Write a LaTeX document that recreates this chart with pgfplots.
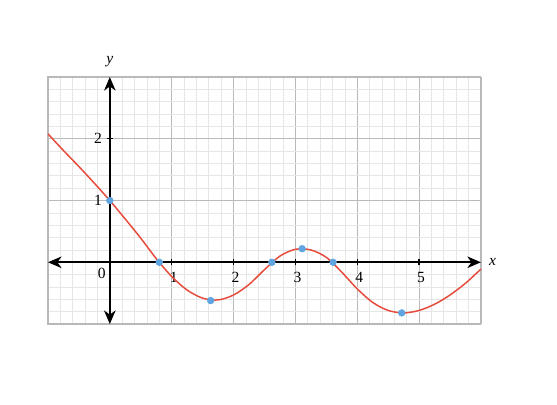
\documentclass[border=0pt]{standalone}
\usepackage{pgfplots}
\pgfplotsset{compat=1.18}
\usepackage{fontspec}
\setmainfont{Liberation Serif}
\usetikzlibrary{arrows.meta}
\definecolor{curvered}{RGB}{230,75,60}
\definecolor{ptblue}{RGB}{95,165,225}
\definecolor{majgrid}{RGB}{185,185,185}
\definecolor{mingrid}{RGB}{230,230,230}

\begin{document}
\begin{tikzpicture}
\path[use as bounding box] (0,0) rectangle (412.2pt,299pt);
\pgfplotsset{
  common/.style={
    at={(35.5pt,59.2pt)}, anchor=south west,
    scale only axis, width=320.4pt, height=182.8pt,
    xmin=-1, xmax=6, ymin=-1, ymax=3,
  }
}
% background grid
\begin{axis}[common,
  xtick={-1,...,6}, ytick={-1,...,3},
  minor tick num=4,
  xticklabels={}, yticklabels={},
  major tick length=0pt, minor tick length=0pt,
  grid=both,
  major grid style={majgrid, line width=0.6pt},
  minor grid style={mingrid, line width=0.5pt},
  axis line style={majgrid, line width=0.8pt},
]
\end{axis}

% axes, curve and points
\begin{axis}[common,
  axis lines=middle,
  clip=false,
  axis line style={line width=1.3pt,
    {Stealth[length=10pt,width=8.5pt,inset=3pt]}-{Stealth[length=10pt,width=8.5pt,inset=3pt]}},
  xtick={1,...,5}, ytick={1,2},
  tick align=center,
  major tick length=4.5pt,
  tick style={black, line width=0.9pt},
  /pgf/number format/assume math mode=true,
  ticklabel style={font=\fontsize{11.5}{13}\selectfont},
  xticklabel style={anchor=north, xshift=1.5pt, yshift=-1.5pt},
  yticklabel style={anchor=east, xshift=0pt},
  label style={font=\fontsize{11.5}{13}\selectfont},
  xlabel={\textit{x}}, ylabel={\textit{y}},
  xlabel style={at={(axis description cs:1,0.25)}, anchor=west, xshift=2.5pt},
  ylabel style={at={(axis description cs:0.142857,1)}, anchor=south, yshift=4pt},
]
\addplot[curvered, line width=1.1pt, smooth] coordinates {
  (-1,2.08) (-0.75,1.81) (-0.5,1.55) (-0.25,1.28) (0,1.00) (0.25,0.70)
  (0.5,0.39) (0.75,0.06) (1,-0.23) (1.25,-0.45) (1.5,-0.58) (1.75,-0.61)
  (2,-0.53) (2.25,-0.36) (2.5,-0.12) (2.75,0.10) (3,0.21) (3.25,0.20)
  (3.5,0.08) (3.75,-0.16) (4,-0.43) (4.25,-0.65) (4.5,-0.78) (4.75,-0.82)
  (5,-0.78) (5.25,-0.68) (5.5,-0.53) (5.75,-0.34) (6,-0.11)
};
\addplot[only marks, mark=*, mark size=2.5pt, ptblue, mark options={draw=ptblue, fill=ptblue}] coordinates {
  (0,1) (0.8,0) (1.63,-0.62) (2.62,0) (3.11,0.22) (3.61,0) (4.72,-0.82)
};
\node[font=\fontsize{11.5}{13}\selectfont] at (axis cs:-0.13,-0.18) {0};
\end{axis}
\end{tikzpicture}
\end{document}
